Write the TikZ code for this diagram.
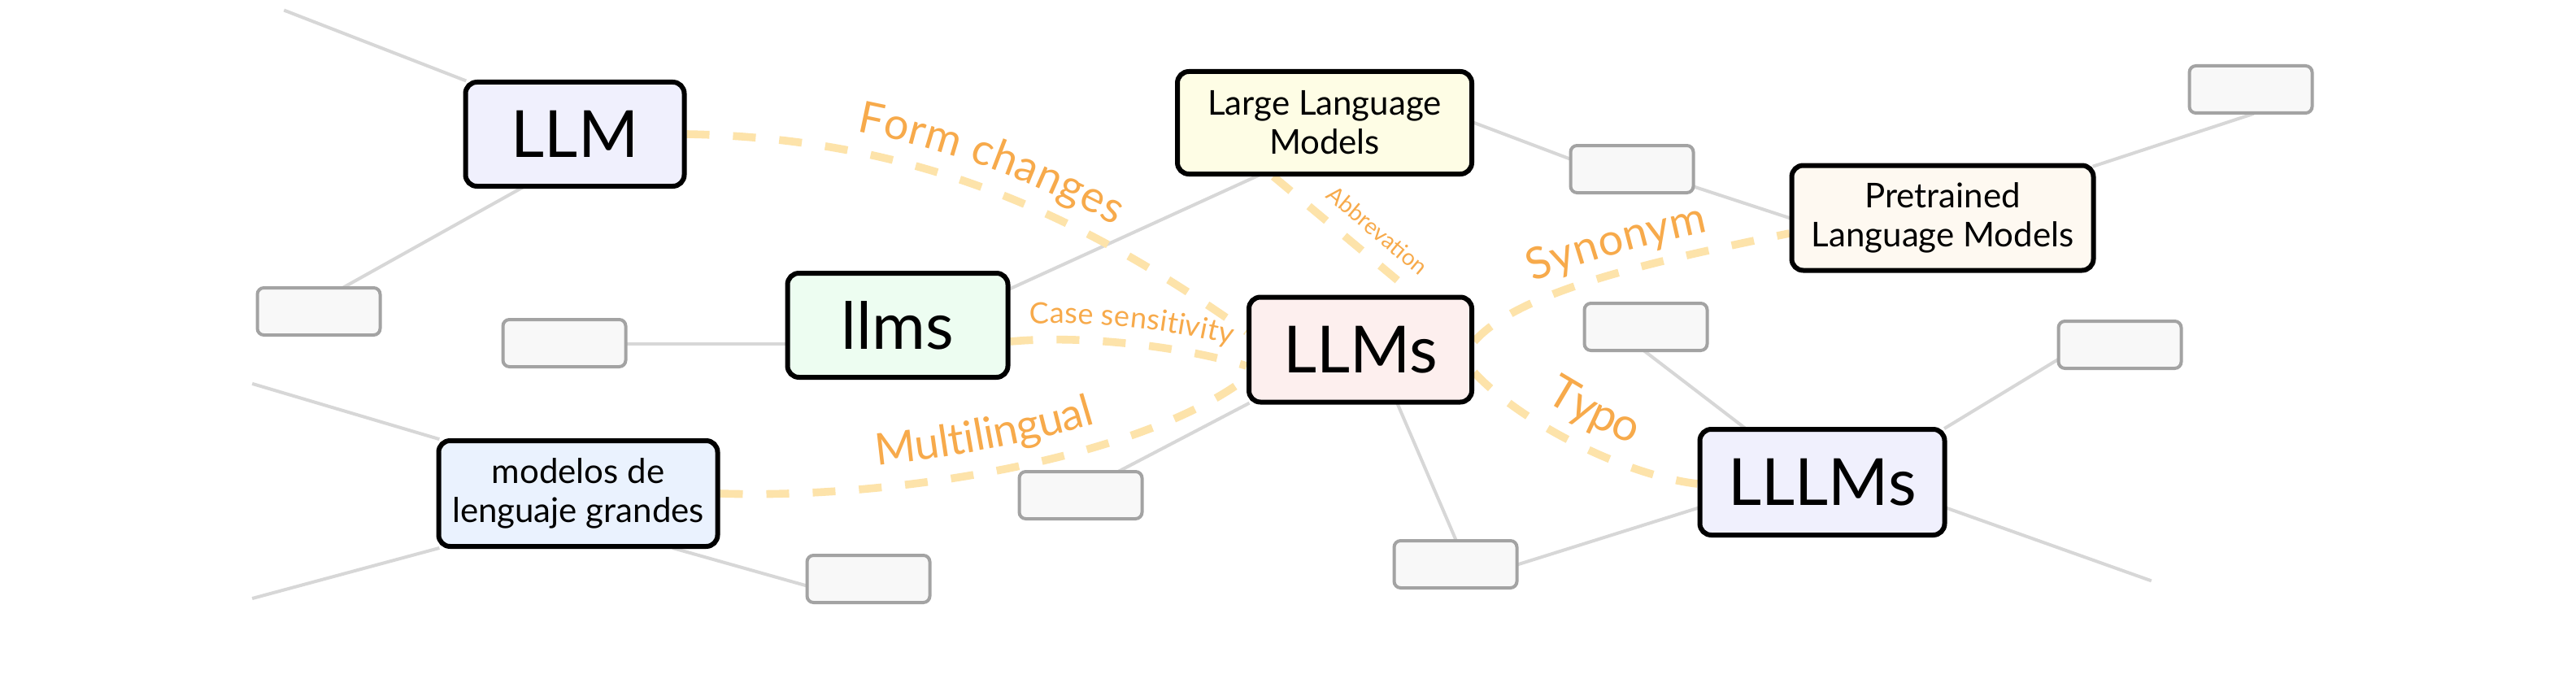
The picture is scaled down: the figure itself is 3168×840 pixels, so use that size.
\documentclass[tikz,border=0pt]{standalone}
\usepackage{fontspec}
\setmainfont{Lato}
\usetikzlibrary{calc,decorations.text}
\definecolor{edgegray}{RGB}{215,215,215}
\definecolor{smallfill}{RGB}{248,248,248}
\definecolor{smalldraw}{RGB}{163,163,163}
\definecolor{flowcol}{RGB}{253,227,170}
\definecolor{lblcol}{RGB}{247,170,75}
\definecolor{cLLM}{RGB}{240,240,253}
\definecolor{cllms}{RGB}{237,253,241}
\definecolor{cLLMs}{RGB}{253,239,238}
\definecolor{cLarge}{RGB}{254,253,229}
\definecolor{cPre}{RGB}{254,249,241}
\definecolor{cMod}{RGB}{234,242,254}
\definecolor{cLLLMs}{RGB}{240,240,253}
\pgfdeclarelayer{back}
\pgfdeclarelayer{bg}
\pgfsetlayers{back,bg,main}
\begin{document}
\begin{tikzpicture}[x=0.5pt,y=-0.5pt,
  mainbox/.style={draw=black, line width=3pt, rounded corners=7pt, inner sep=0pt, align=center},
  smallbox/.style={draw=smalldraw, fill=smallfill, line width=2pt, rounded corners=4pt,
    minimum width=75.5pt, minimum height=29pt, inner sep=0pt},
  link/.style={draw=edgegray, line width=2pt, shorten <=-2pt, shorten >=-2pt},
  flow/.style={draw=flowcol, line width=4.8pt, dash pattern=on 14pt off 14.5pt},
  bigfont/.style={font=\fontsize{40}{42}\selectfont},
  midfont/.style={font=\fontsize{21}{24}\selectfont},
  lbl/.style args={#1/#2/#3}{postaction={decorate, decoration={text along path,
    text={|\fontsize{#2}{#2}\selectfont|#1}, text color=lblcol, text align=center, raise=#3}}},
]
\begin{pgfonlayer}{back}
\fill[white] (0,0) rectangle (3168,840);
\end{pgfonlayer}
\path[use as bounding box] (0,0) rectangle (3168,840);

% main nodes
\node[mainbox, fill=cLLM, minimum width=134.5pt, minimum height=64pt, bigfont] (LLM) at (707,165) {LLM};
\node[mainbox, fill=cllms, minimum width=135.5pt, minimum height=64pt, bigfont] (llms) at (1104,400) {llms};
\node[mainbox, fill=cLLMs, minimum width=137pt, minimum height=64.5pt, bigfont] (LLMs) at (1673,430) {LLMs};
\node[mainbox, fill=cLarge, minimum width=181pt, minimum height=63pt, midfont] (LargeLM) at (1629,151) {Large Language\\Models};
\node[mainbox, fill=cPre, minimum width=185.5pt, minimum height=64.5pt, midfont] (Pre) at (2389,268) {Pretrained\\Language Models};
\node[mainbox, fill=cMod, minimum width=171.5pt, minimum height=65pt, midfont] (Mod) at (711,607) {modelos de\\lenguaje grandes};
\node[mainbox, fill=cLLLMs, minimum width=150.5pt, minimum height=65pt, bigfont] (LLLMs) at (2241,593) {LLLMs};

% small empty nodes
\node[smallbox] (s1) at (392,383) {};
\node[smallbox] (s2) at (694,422) {};
\node[smallbox] (s3) at (1329,609) {};
\node[smallbox] (s4) at (1068,712) {};
\node[smallbox] (s5) at (1790,694) {};
\node[smallbox] (s6) at (2024,402) {};
\node[smallbox] (s7) at (2007,208) {};
\node[smallbox] (s8) at (2607,424) {};
\node[smallbox] (s9) at (2768,110) {};

\coordinate (f1) at (353,14);
\coordinate (f2) at (314,473);
\coordinate (f3) at (314,735);
\coordinate (f4) at (2642,713);

\begin{pgfonlayer}{bg}
% gray links
\draw[link] (f1) -- (LLM.north west);
\draw[link] ($(s1.north)+(33,0)$) -- ($(LLM.south)+(-67,0)$);
\draw[link] ($(s2.east)+(0,1)$) -- ($(llms.west)+(0,23)$);
\draw[link] ($(llms.north east)+(0,22)$) -- ($(LargeLM.south)+(-84,0)$);
\draw[link] (LargeLM.east) -- ($(s7.west)+(0,-13)$);
\draw[link] ($(s7.east)+(0,22)$) -- (Pre.west);
\draw[link] ($(Pre.north east)+(0,3)$) -- (s9.south);
\draw[link] ($(LLMs.south)+(46,0)$) -- (s5.north);
\draw[link] (s5.east) -- ($(LLLMs.west)+(0,32)$);
\draw[link] (s6.south) -- ($(LLLMs.north)+(-97,0)$);
\draw[link] (LLLMs.north east) -- ($(s8.west)+(0,19)$);
\draw[link] ($(LLLMs.east)+(0,32)$) -- (f4);
\draw[link] (LLMs.south west) -- ($(s3.north)+(50,0)$);
\draw[link] (f2) -- (Mod.north west);
\draw[link] (Mod.south west) -- (f3);
\draw[link] ($(Mod.south)+(120,0)$) -- ($(s4.west)+(0,8)$);

% dashed relations with labels
\draw[flow, lbl={Form changes/27/12.5pt}] (LLM.east) .. controls +(285,5) and +(-203,-143) .. ($(LLMs.west)+(0,-22)$);
\draw[flow, lbl={Case sensitivity/18/10pt}] ($(llms.east)+(0,20)$) .. controls +(87,-8) and +(-83,-25) .. ($(LLMs.west)+(0,20)$);
\draw[flow, lbl={Multilingual/27/14pt}] (Mod.east) .. controls +(214,7) and +(-133,100) .. ($(LLMs.west)+(0,35)$);
\draw[flow] ($(LargeLM.south)+(-63,0)$) -- node[pos=0.62, sloped, above=8pt, inner sep=0pt, text=lblcol, font=\fontsize{14}{14}\selectfont] (lblAbb) {Abbrevation} ($(LLMs.north)+(67,0)$);
\draw[flow, lbl={Synonym/27/11.5pt}] ($(LLMs.east)+(0,-10)$) .. controls +(57,-65) and +(-150,31) .. ($(Pre.west)+(0,19)$);
\draw[flow, lbl={Typo/28/14pt}] ($(LLMs.east)+(0,28)$) .. controls +(57,62) and +(-88,-10) .. ($(LLLMs.west)+(0,2)$);
\end{pgfonlayer}
\end{tikzpicture}
\end{document}
